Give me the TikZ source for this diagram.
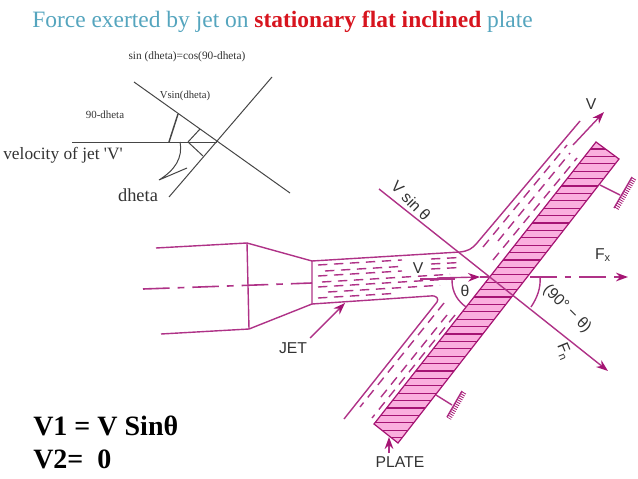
\documentclass[tikz,border=0pt]{standalone}
\usepackage{fontspec}
\setmainfont{Liberation Serif}
\setsansfont{Liberation Sans}
\usetikzlibrary{arrows.meta}
\definecolor{jetline}{RGB}{175,50,135}
\definecolor{platefill}{RGB}{250,175,222}
\definecolor{platehatch}{RGB}{165,20,115}
\definecolor{sketchline}{RGB}{70,70,70}
\definecolor{titleblue}{RGB}{85,165,190}
\definecolor{titlered}{RGB}{215,20,30}
\definecolor{labelgrey}{RGB}{50,50,50}
\tikzset{
  jet/.style={draw=jetline,line width=1.05pt},
  streak/.style={jetline,line width=1.05pt,dash pattern=on 7pt off 5pt},
  centreline/.style={jetline,line width=1.2pt,dash pattern=on 20pt off 6pt on 5pt off 6pt},
  pinktip/.style={-{Stealth[length=9pt,width=6.5pt,color=platehatch]}},
  sketch/.style={sketchline,line width=0.75pt},
  sketchtext/.style={inner sep=0pt,text=black!80},
  partlabel/.style={inner sep=0pt,text=labelgrey,font=\sffamily\fontsize{11.8}{14}\selectfont},
  wallhatch/.style={platehatch,line width=3.6pt,dash pattern=on 0.6pt off 1.1pt}
}
\begin{document}
\begin{tikzpicture}[x=0.75pt,y=-0.75pt]
  \useasboundingbox (0,0) rectangle (638,478);
  % heading
  \node (heading) [anchor=base west,inner sep=0pt,text=titleblue,font=\fontsize{17.6}{21}\selectfont] at (32,28)
    {Force exerted by jet on \textcolor{titlered}{\textbf{stationary flat inclined}} plate};
  % hand sketch
  \draw[sketch] (134,82)--(290,193);
  \draw[sketch] (272,77)--(169,197);
  \draw[sketch] (72,142)--(217,142);
  \draw[sketch,line width=1.1pt] (169,142)--(178,114);
  \draw[sketch] (188,142)--(200,129);
  \draw[sketch] (188,142)--(203,156);
  \draw[sketch] (180,142) .. controls (183,158) and (175,170) .. (159,180)--(187,168);
  \node (identity) [sketchtext,font=\fontsize{8.5}{10}\selectfont] at (187,57) {sin (dheta)=cos(90-dheta)};
  \node (vsin) [sketchtext,font=\fontsize{8}{10}\selectfont] at (185,96) {Vsin(dheta)};
  \node (comp) [sketchtext,font=\fontsize{8.2}{10}\selectfont] at (105,115) {90-dheta};
  \node (velocity) [sketchtext,font=\fontsize{13}{15}\selectfont] at (63,155) {velocity of jet \textquotesingle V\textquotesingle};
  \node (dheta) [sketchtext,font=\fontsize{13.8}{16}\selectfont] at (138,195) {dheta};
  % plate
  \filldraw[draw=platehatch,fill=platefill,line width=0.9pt] (596,142)--(619,159)--(398,443)--(374,424)--cycle;
  \begin{scope}
    \clip (596,142)--(619,159)--(398,443)--(374,424)--cycle;
    \foreach \y in {149,156.4,...,442}
      \draw[platehatch,line width=0.9pt] (360,\y)--(630,\y);
  \end{scope}
  % wall fixings
  \draw[jet] (600,185)--(620,195);
  \draw[jet] (632,177)--(614,208);
  \draw[wallhatch] (634,178.5)--(616,209.5);
  \draw[jet] (436,395)--(452,405);
  \draw[jet] (462,391)--(447,417);
  \draw[wallhatch] (464,392.5)--(449,418.5);
  % pipe and nozzle
  \draw[jet] (156,248)--(247,243)--(312,261)--(312,304)--(249,329)--(161,334);
  \draw[jet] (247,243)--(249,329);
  % jet and stream walls
  \draw[jet] (312,261)--(460,252) .. controls (468,251) and (472,249) .. (477,243)--(580,121);
  \draw[jet] (312,304)--(430,296) .. controls (437,295) and (439,299) .. (437,302)--(344,419);
  % streaks in the jet
  \foreach \rowy/\rowend/\rowstart in {265/402/318,271/402/325,276/402/318,282/450/322,287/452/318,292/440/328,298/395/318}
    \draw[streak] (\rowstart,\rowy)--(\rowend,\rowy-0.06*\rowend+0.06*\rowstart);
  \foreach \rowy/\rowstart in {259/431,264/431,269/431}
    \draw[streak] (\rowstart,\rowy)--(460,\rowy-1.5);
  % streaks up and down the plate
  \draw[streak] (483,247)--(567,145);
  \draw[streak] (498,241)--(570,153);
  \draw[streak] (493,260)--(577,158);
  \draw[streak] (444,303)--(360,407);
  \draw[streak] (447,315)--(377,402);
  \draw[streak] (455,315)--(372,418);
  % centre line and forces
  \draw[centreline] (143,289)--(312,283);
  \draw[jet] (420,279)--(455,279);
  \draw[jet,pinktip] (437,278)--(480,277);
  \draw[jet] (480,277)--(490,277);
  \draw[centreline,pinktip] (530,277)--(628,277);
  \draw[jet,pinktip] (573,145)--(604,112);
  \draw[jet,pinktip] (379,189)--(608,371);
  \draw[jet] (452,280) .. controls (452,293) and (458,301) .. (466,307);
  \draw[jet] (540,277) .. controls (541,288) and (537,298) .. (531,307);
  % pointers
  \coordinate (jettip) at (345,303);
  \coordinate (platetip) at (389,437);
  \node (jetlabel) [partlabel] at (293,348) {JET};
  \node (platelabel) [partlabel] at (400,462) {PLATE};
  \draw[jet,pinktip] (310,338)--(jettip);
  \draw[jet,pinktip] (389,453)--(platetip);
  % labels on the figure
  \node (vjet) [partlabel] at (418,268) {V};
  \node (vout) [partlabel] at (591,104) {V};
  \node (fx) [partlabel] at (603,255) {F\textsubscript{x}};
  \node (fn) [partlabel,rotate=-68] at (564,352) {F\textsubscript{n}};
  \node (vsintheta) [partlabel,rotate=-45] at (411,201) {V sin θ};
  \node (theta) [partlabel] at (465,291) {θ};
  \node (comptheta) [partlabel,rotate=-45] at (567,309) {(90° − θ)};
  % results
  \node (vone) [anchor=base west,inner sep=0pt,font=\bfseries\fontsize{21}{25}\selectfont] at (33,435) {V1 = V Sinθ};
  \node (vtwo) [anchor=base west,inner sep=0pt,font=\bfseries\fontsize{21}{25}\selectfont] at (33,468) {V2=\ \ 0};
\end{tikzpicture}
\end{document}
